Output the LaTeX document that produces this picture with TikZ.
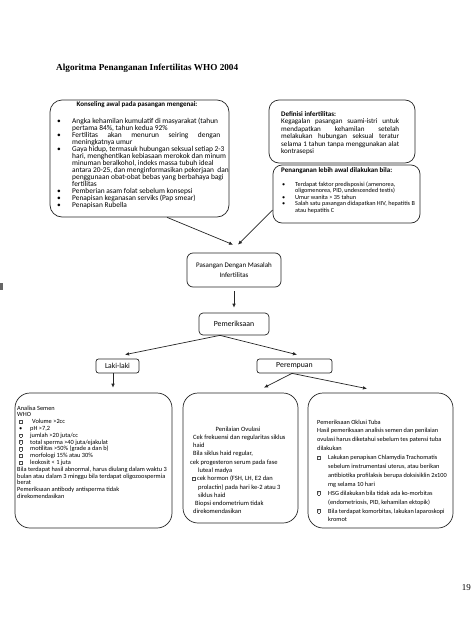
\documentclass[tikz,border=0pt]{standalone}
\usepackage{fontspec}
\setmainfont{Carlito}
\newfontfamily\serifttl{Liberation Serif}
\usetikzlibrary{arrows.meta,calc}
\newcommand{\qmb}{\textcolor{black!70}{\vrule width0.35pt height3.8pt depth0pt\vbox to 3.8pt{\hrule width2.6pt height0.35pt\vfill\hbox to 2.6pt{\hss\fontsize{2.8}{2.8}\selectfont ?\hss}\vfill\hrule width2.6pt height0.35pt}\vrule width0.35pt height3.8pt depth0pt}}
\newcommand{\fs}[2]{\fontsize{#1}{#2}\selectfont}
\newcommand{\bul}[1]{\llap{\textbullet\hspace{#1}}}
\begin{document}
\begin{tikzpicture}[x=1pt,y=-1pt,
  box/.style={draw=black!85, line width=0.7pt, inner sep=0pt},
  txt/.style={inner sep=0pt, align=left, anchor=north west},
  arr/.style={draw=black!85, line width=0.7pt, -{Latex[length=4pt,width=3.6pt]}}]
\useasboundingbox (0,0) rectangle (474,632);
\fill[white] (0,0) rectangle (474,632);

\node[anchor=base west, inner sep=0pt, font=\serifttl\bfseries\fs{9.2}{11}] (title) at (56,70) {Algoritma Penanganan Infertilitas WHO 2004};

% boxes
\node[box, rounded corners=12pt, minimum width=179pt, minimum height=117pt] (b1) at (139.5,158.5) {};
\node[box, rounded corners=10pt, minimum width=146pt, minimum height=63pt] (b2) at (342,131.5) {};
\node[box, rounded corners=9pt, minimum width=147pt, minimum height=58pt] (b3) at (346.5,194) {};
\node[box, rounded corners=6pt, minimum width=94pt, minimum height=34pt, align=center, font=\fs{7}{10}] (pas) at (234,270) {Pasangan Dengan Masalah\\Infertilitas};
\node[box, rounded corners=4pt, minimum width=70pt, minimum height=22pt, font=\fs{7.8}{9}] (pem) at (234,324) {Pemeriksaan};
\node[box, rounded corners=2.5pt, minimum width=43pt, minimum height=14pt, font=\fs{7.6}{8}] (lak) at (117.5,366) {Laki-laki};
\node[box, rounded corners=2.5pt, minimum width=75pt, minimum height=14pt, font=\fs{7.8}{8}] (per) at (294.5,366) {Perempuan};
\node[box, rounded corners=15pt, minimum width=157pt, minimum height=135pt] (bA) at (93.5,460.5) {};
\node[box, rounded corners=15pt, minimum width=115pt, minimum height=130pt] (bB) at (240.5,458) {};
\node[box, rounded corners=15pt, minimum width=145pt, minimum height=135pt] (bC) at (380.5,460.5) {};

% box 1 text
\node[inner sep=0pt, font=\bfseries\fs{7}{7}] (b1h) at (137,105) {Konseling awal pada pasangan mengenai:};
\node[txt, font=\fs{7.4}{7}] (b1t) at (72,117.5) {%
\bul{11.5pt}Angka kehamilan kumulatif di masyarakat (tahun\\
pertama 84\%, tahun kedua 92\%\\
\bul{11.5pt}\makebox[148pt][s]{Fertilitas akan menurun seiring dengan}\\
meningkatnya umur\\
\bul{11.5pt}Gaya hidup, termasuk hubungan seksual setiap 2-3\\
hari, menghentikan kebiasaan merokok dan minum\\
minuman beralkohol, indeks massa tubuh ideal\\
antara 20-25, dan menginformasikan pekerjaan\ \ dan\\
penggunaan obat-obat bebas yang berbahaya bagi\\
fertilitas\\
\bul{11.5pt}Pemberian asam folat sebelum konsepsi\\
\bul{11.5pt}Penapisan keganasan serviks (Pap smear)\\
\bul{11.5pt}Penapisan Rubella};

% box 2 text
\node[anchor=west, inner sep=0pt, font=\bfseries\fs{7}{7}] (b2h) at (281,114) {Definisi infertilitas:};
\node[txt, font=\fs{7.1}{7.5}] (b2t) at (281,118.5) {%
\makebox[118pt][s]{Kegagalan pasangan suami-istri untuk}\\
\makebox[118pt][s]{mendapatkan kehamilan setelah}\\
\makebox[118pt][s]{melakukan hubungan seksual teratur}\\
\makebox[118pt][s]{selama 1 tahun tanpa menggunakan alat}\\
kontrasepsi};

% box 3 text
\node[anchor=west, inner sep=0pt, font=\bfseries\fs{7}{7}] (b3h) at (281,171) {Penanganan lebih awal dilakukan bila:};
\node[txt, font=\fs{6.2}{6.5}] (b3t) at (295,181.5) {%
\bul{10pt}Terdapat faktor predisposisi (amenorea,\\
oligomenorea, PID, undescended testis)\\
\bul{10pt}Umur wanita > 35 tahun\\
\bul{10pt}Salah satu pasangan didapatkan HIV, hepatitis B\\
atau hepatitis C};

% box A text
\node[txt, font=\fs{6.35}{6.8}] (bAt) at (17,405.5) {%
Analisa Semen\\
WHO\\
\makebox[13pt][l]{\hspace{2pt}\qmb}\hspace{2pt}Volume >2cc\\
\makebox[13pt][l]{\hspace{2pt}\textbullet}pH >7,2\\
\makebox[13pt][l]{\hspace{2pt}\qmb}jumlah >20 juta/cc\\
\makebox[13pt][l]{\hspace{2pt}\qmb}total sperma >40 juta/ejakulat\\
\makebox[13pt][l]{\hspace{2pt}\qmb}motilitas >50\% (grade a dan b)\\
\makebox[13pt][l]{\hspace{2pt}\qmb}morfologi 15\% atau 30\%\\
\makebox[13pt][l]{\hspace{2pt}\qmb}leokosit < 1 juta\\
Bila terdapat hasil abnormal, harus diulang dalam waktu 3\\
bulan atau dalam 3 minggu bila terdapat oligozoospermia\\
berat\\
Pemeriksaan antibody antisperma tidak\\
direkomendasikan};

% box B text
\node[inner sep=0pt, font=\fs{6.5}{7}] (bBh) at (238,429) {Penilaian Ovulasi};
\node[txt, font=\fs{6.5}{8.3}] (bBt) at (190,434.5) {%
\hspace*{3pt}Cek frekuensi dan regularitas siklus\\
\hspace*{3pt}haid\\
\hspace*{3pt}Bila siklus haid regular,\\
cek progesteron serum pada fase\\
\hspace*{8pt}luteal madya\\
\hspace*{2pt}\qmb\hspace{1.5pt}cek hormon (FSH, LH, E2 dan\\
\hspace*{8pt}prolactin) pada hari ke-2 atau 3\\
\hspace*{8pt}siklus haid\\
\hspace*{5pt}Biopsi endometrium tidak\\
\hspace*{3pt}direkomendasikan};

% box C text
\node[txt, font=\fs{6.3}{8.9}] (bCt) at (317,419.5) {%
Pemeriksaan Oklusi Tuba\\
Hasil pemeriksaan analisis semen dan penilaian\\
ovulasi harus diketahui sebelum tes patensi tuba\\
dilakukan\\
\makebox[11pt][l]{\qmb}Lakukan penapisan Chlamydia Trachomatis\\
\hspace*{11pt}sebelum instrumentasi uterus, atau berikan\\
\hspace*{11pt}antibiotika profilaksis berupa doksisiklin 2x100\\
\hspace*{11pt}mg selama 10 hari\\
\makebox[11pt][l]{\qmb}HSG dilakukan bila tidak ada ko-morbitas\\
\hspace*{11pt}(endometriosis, PID, kehamilan ektopik)\\
\makebox[11pt][l]{\qmb}Bila terdapat komorbitas, lakukan laparoskopi\\
\hspace*{11pt}kromot};

% connectors
\draw[arr] ($(b1.south)+(27.5,0)$) -- ($(pas.north)+(-1,-8)$);
\draw[arr] ($(b3.west)+(0,16)$) -- ($(pas.north)+(4,-8)$);
\draw[arr] ($(pas.south)+(0,4)$) -- ($(pem.north)+(0,-5)$);
\draw[arr] ($(pem.south)+(-14,0)$) -- ($(lak.north)+(7.5,-4)$);
\draw[arr] ($(pem.south)+(-14,0)$) -- ($(per.north)+(2.5,-4)$);
\draw[arr] ($(lak.south)+(-4.5,0)$) -- ($(bA.north)+(19.5,-5)$);
\draw[arr] ($(per.south)+(-2.5,0)$) -- ($(bB.north)+(23.5,-5)$);
\draw[arr] ($(per.south)+(-2.5,0)$) -- ($(bC.north)+(-13.5,-4)$);

% margin mark and page number
\fill[black!60] (0,283) rectangle (2.5,290);
\node[anchor=base east, inner sep=0pt, font=\serifttl\fs{9}{10}] (pg) at (471,590) {19};
\end{tikzpicture}
\end{document}
